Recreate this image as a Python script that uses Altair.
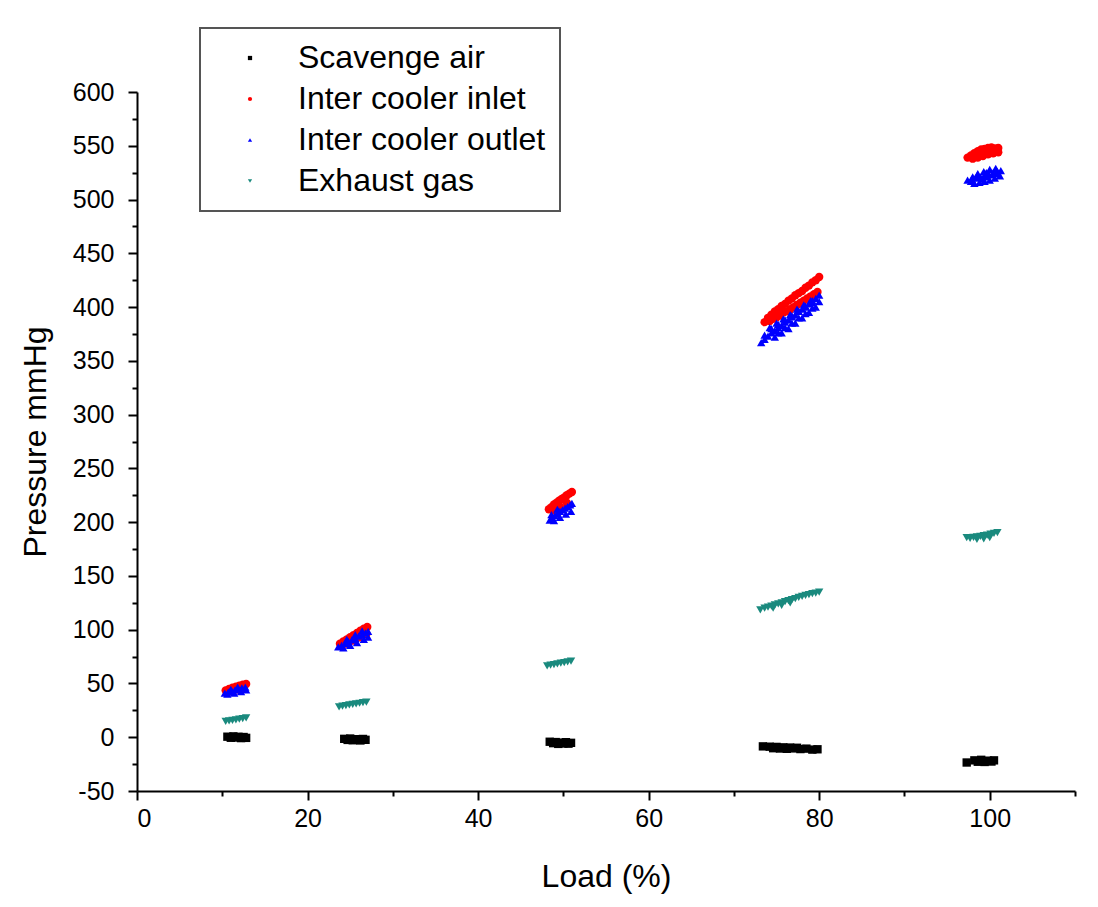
import altair as alt
import pandas as pd

series_names = ["Scavenge air", "Inter cooler inlet", "Inter cooler outlet", "Exhaust gas"]
series_colors = ["#000000", "#ff0000", "#0000ff", "#1a8a7e"]
series_shapes = ["square", "circle", "triangle-up", "triangle-down"]

# Scavenge air
scav_x = [10.6, 11.0, 11.3, 11.6, 11.9, 12.2, 12.5, 12.8,
          24.3, 24.7, 25.0, 25.3, 25.6, 25.9, 26.2, 26.5, 26.8,
          48.4, 48.8, 49.1, 49.4, 49.7, 50.0, 50.3, 50.6, 50.9,
          73.4, 74.2, 74.6, 75.0, 75.4, 75.8, 76.2, 76.6, 77.0, 77.4, 77.8, 78.5, 79.2, 79.8,
          97.3, 98.2, 98.6, 99.0, 99.4, 99.8, 100.2, 100.5]
scav_y = [0.5, -0.5, 0.8, -0.3, 0.4, -0.8, 0.2, -0.6,
          -1.5, -2.5, -1.2, -2.8, -1.8, -2.2, -3.0, -1.6, -2.4,
          -4.2, -5.5, -4.5, -6.2, -5.0, -5.8, -4.6, -6.0, -5.2,
          -8.5, -8.8, -10.2, -9.0, -10.5, -9.4, -10.8, -9.6, -10.4, -9.8, -11.0, -10.6, -11.5, -11.2,
          -23.5, -21.5, -22.8, -21.0, -23.0, -21.8, -22.6, -21.5]

# Inter cooler inlet
inlet_x = [10.4, 10.8, 11.2, 11.6, 12.0, 12.4, 12.8, 11.0, 11.8, 12.5,
           23.8, 24.2, 24.6, 25.0, 25.4, 25.8, 26.2, 26.6, 27.0, 24.5, 25.3, 26.1, 26.9,
           48.3, 48.6, 48.9, 49.2, 49.5, 49.8, 50.1, 50.4, 50.7, 51.0, 48.8, 49.6, 50.4,
           73.6, 74.0, 74.4, 74.8, 75.2, 75.6, 76.0, 76.4, 76.8, 77.2, 77.6, 78.0, 78.4, 78.8, 79.2, 79.6, 80.0,
           74.6, 75.4, 76.2, 77.0, 77.8, 78.6, 79.4,
           74.2, 75.0, 75.8, 76.6, 77.4, 78.2, 79.0, 79.8,
           97.4, 97.8, 98.2, 98.6, 99.0, 99.4, 99.8, 100.2, 100.6, 101.0,
           98.0, 98.6, 99.2, 99.8, 100.4, 101.0, 99.0, 100.0]
inlet_y = [43.5, 45.0, 46.0, 47.0, 48.0, 48.8, 49.5, 43.0, 44.5, 46.0,
           87, 89, 91, 93, 95, 97, 99, 101, 102.5, 87, 90, 93, 96,
           212, 214, 216.5, 218, 220, 221.5, 223, 225, 226.5, 228, 211, 214.5, 218,
           386, 390, 393, 396, 398, 401, 403, 406, 408, 411, 413, 415, 418, 420, 423, 425, 428,
           389, 392, 396, 400, 404, 408, 412,
           387, 390.5, 395, 398, 402, 406, 410, 414,
           539, 541, 543, 545, 546.5, 547, 548, 548.5, 547.5, 548,
           538, 539, 540.5, 542, 543, 544, 543, 545]

# Inter cooler outlet
outlet_x = [10.3, 10.7, 11.1, 11.5, 11.9, 12.3, 12.7, 10.6, 11.4, 12.2, 12.8, 11.0, 11.8,
            23.6, 24.0, 24.4, 24.8, 25.2, 25.6, 26.0, 26.4, 26.8, 27.1, 24.2, 25.0, 25.8, 26.6, 27.1, 24.6, 25.6, 26.4,
            48.4, 48.7, 49.0, 49.3, 49.6, 49.9, 50.2, 50.5, 50.8, 51.0, 48.9, 49.6, 50.3, 50.9, 48.6, 49.3,
            73.2, 73.6, 74.0, 74.4, 74.8, 75.2, 75.6, 76.0, 76.4, 76.8, 77.2, 77.6, 78.0, 78.4, 78.8, 79.2, 79.6, 80.0,
            74.2, 75.0, 75.8, 76.6, 77.4, 78.2, 79.0,
            74.8, 75.6, 76.4, 77.2, 78.0, 78.8, 79.6,
            73.6, 74.4, 75.2, 76.0, 76.8, 77.6, 78.4, 79.2,
            75.2, 76.0, 76.8, 77.6, 78.4, 79.2, 80.0,
            97.4, 97.9, 98.4, 98.9, 99.4, 99.9, 100.4, 100.9, 101.3,
            98.2, 98.8, 99.4, 100.0, 100.6, 101.2, 98.6, 99.3, 100.0, 100.7,
            97.8, 98.5, 99.1, 99.7, 100.3, 100.9, 99.6, 98.0]
outlet_y = [41, 42, 43, 44, 45, 46, 46.5, 40, 41, 42.5, 44, 44.5, 46.5,
            84, 85.5, 87, 89, 90.5, 92, 94, 95.5, 97, 98.5, 83, 85.5, 88, 91, 93, 91, 95.5, 99,
            202, 204, 206, 208, 210, 211.5, 213, 214.5, 216, 217.5, 201.5, 204.5, 207.5, 210, 207, 212,
            367, 370, 373, 376, 378, 381, 383, 386, 388, 391, 393, 396, 398, 401, 403, 406, 408, 411,
            381, 385, 389, 393, 398, 402, 406,
            372, 376, 380, 385, 390, 395, 400,
            374, 380, 384, 388, 392, 396, 400, 404,
            376, 381, 385, 390, 394, 399, 405,
            518, 519, 520, 521, 522.5, 523.5, 525, 526, 527,
            515, 516, 517, 518, 520, 522, 524, 526, 528, 529,
            517, 522, 519, 521, 523, 524, 525, 521]

# Exhaust gas
exh_x = [10.4, 10.8, 11.2, 11.6, 12.0, 12.4, 12.8,
         23.7, 24.1, 24.5, 24.9, 25.3, 25.7, 26.1, 26.5, 26.9,
         48.1, 48.5, 48.9, 49.3, 49.7, 50.1, 50.5, 50.9,
         73.1, 73.6, 74.0, 74.4, 74.8, 75.2, 75.6, 76.0, 76.4, 76.8, 77.2, 77.6, 78.0, 78.4, 78.8, 79.2, 79.6, 80.0,
         74.6, 75.6, 76.6,
         97.3, 97.7, 98.1, 98.5, 98.9, 99.3, 99.7, 100.1, 100.5, 100.9, 98.5, 99.3, 100.0]
exh_y = [14.8, 15.2, 15.7, 16.2, 16.8, 17.3, 17.9,
         28.3, 28.9, 29.4, 30.0, 30.5, 31.0, 31.6, 32.1, 32.6,
         66.3, 67.0, 67.6, 68.2, 68.8, 69.4, 70.0, 70.7,
         118.5, 120, 121, 122, 123, 124, 125, 126, 127, 128, 129, 130, 131, 132, 132.5, 133.5, 134, 135,
         120, 122.5, 125,
         185.5, 185, 185.8, 186.2, 186.8, 187.4, 188, 188.8, 189.5, 190.3, 184, 184.5, 185.5]

x_ticks = [0, 10, 20, 30, 40, 50, 60, 70, 80, 90, 100, 110]
y_ticks = [-50, -25, 0, 25, 50, 75, 100, 125, 150, 175, 200, 225, 250, 275, 300,
           325, 350, 375, 400, 425, 450, 475, 500, 525, 550, 575, 600]

frames = []
for name, xs, ys in [(series_names[0], scav_x, scav_y),
                     (series_names[1], inlet_x, inlet_y),
                     (series_names[2], outlet_x, outlet_y),
                     (series_names[3], exh_x, exh_y)]:
    frames.append(pd.DataFrame({"load": xs, "pressure": ys, "series": name}))
df = pd.concat(frames, ignore_index=True)
df["order"] = df["series"].map({n: i for i, n in enumerate(series_names)})

FONT = "Liberation Sans"

chart = alt.Chart(df).mark_point(filled=True, opacity=1, size=70, strokeWidth=0).encode(
    x=alt.X("load:Q",
            scale=alt.Scale(domain=[0, 110], nice=False, zero=False),
            axis=alt.Axis(title="Load (%)", values=x_ticks,
                          labelExpr="datum.value % 20 === 0 ? toString(datum.value) : ''",
                          tickSize={"condition": {"test": "datum.value % 20 === 0", "value": 9}, "value": 5},
                          titlePadding=30, labelPadding=6)),
    y=alt.Y("pressure:Q",
            scale=alt.Scale(domain=[-50, 600], nice=False, zero=False),
            axis=alt.Axis(title="Pressure mmHg", values=y_ticks,
                          labelExpr="datum.value % 50 === 0 ? toString(datum.value) : ''",
                          tickSize={"condition": {"test": "datum.value % 50 === 0", "value": 9}, "value": 5},
                          titlePadding=20, labelPadding=14)),
    color=alt.Color("series:N",
                    scale=alt.Scale(domain=series_names, range=series_colors),
                    legend=alt.Legend(title=None, orient="none", legendX=63, legendY=-64,
                                      labelLimit=0)),
    shape=alt.Shape("series:N",
                    scale=alt.Scale(domain=series_names, range=series_shapes)),
    order=alt.Order("order:Q"),
).properties(
    width=938, height=699,
    autosize=alt.AutoSizeParams(type="none"),
    padding={"left": 129, "top": 84, "right": 15, "bottom": 112},
).configure_view(
    strokeWidth=0
).configure_axis(
    grid=False,
    domainColor="#000000", domainWidth=2,
    tickColor="#000000", tickWidth=2,
    labelFont=FONT, labelFontSize=25, labelColor="#000000",
    titleFont=FONT, titleFontSize=32, titleFontWeight="normal", titleColor="#000000",
).configure_legend(
    labelFont=FONT, labelFontSize=32, labelColor="#000000", labelLimit=0,
    symbolSize=18, symbolOffset=20, labelOffset=32,
    rowPadding=9, padding=14,
    strokeColor="#555555", strokeWidth=2, fillColor="#ffffff",
)

chart.save("out.html", embed_options={"renderer": "svg", "actions": False})
